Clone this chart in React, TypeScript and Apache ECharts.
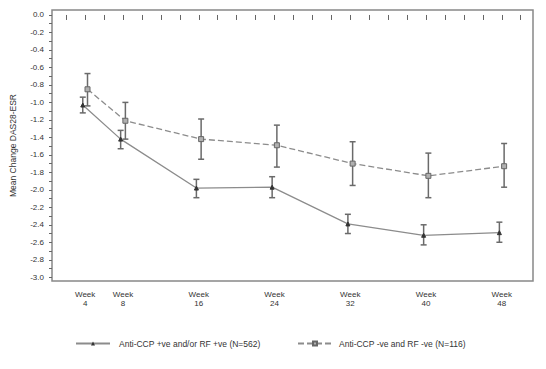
import React, { useEffect, useRef } from "react";
import * as echarts from "echarts";

const weeks = [4, 8, 16, 24, 32, 40, 48];
const xTickWeeks = [2, 4, 6, 8, 10, 12, 14, 16, 18, 20, 22, 24, 26, 28, 30, 32, 34, 36, 38, 40, 42, 44, 46, 48, 50];
const yTickLabels = [0, -0.2, -0.4, -0.6, -0.8, -1.0, -1.2, -1.4, -1.6, -1.8, -2.0, -2.2, -2.4, -2.6, -2.8, -3.0];
const yTicks = [0, -0.1, -0.2, -0.3, -0.4, -0.5, -0.6, -0.7, -0.8, -0.9, -1.0, -1.1, -1.2, -1.3, -1.4, -1.5, -1.6, -1.7, -1.8, -1.9, -2.0, -2.1, -2.2, -2.3, -2.4, -2.5, -2.6, -2.7, -2.8, -2.9, -3.0];

const posName = "Anti-CCP +ve and/or RF +ve (N=562)";
const posMean = [-1.03, -1.42, -1.98, -1.97, -2.39, -2.52, -2.49];
const posLow = [-1.12, -1.53, -2.09, -2.09, -2.5, -2.63, -2.6];
const posHigh = [-0.94, -1.32, -1.88, -1.85, -2.28, -2.4, -2.37];

const negName = "Anti-CCP -ve and RF -ve (N=116)";
const negMean = [-0.85, -1.21, -1.42, -1.49, -1.7, -1.84, -1.73];
const negLow = [-1.04, -1.42, -1.65, -1.74, -1.95, -2.09, -1.97];
const negHigh = [-0.67, -1.0, -1.19, -1.26, -1.45, -1.58, -1.47];

const DODGE = 0.25;
const FONT = "'Liberation Sans', Arial, sans-serif";

function errorSeries(offset: number, low: number[], high: number[]) {
  return {
    type: "custom",
    silent: true,
    z: 3,
    encode: { x: 0, y: [1, 2] },
    data: weeks.map((w, i) => [w + offset, low[i], high[i]]),
    renderItem: (params: any, api: any) => {
      const x = api.value(0);
      const lo = api.coord([x, api.value(1)]);
      const hi = api.coord([x, api.value(2)]);
      const cw = 3;
      const style = { stroke: "#6a6a6a", lineWidth: 1.5 };
      return {
        type: "group",
        children: [
          { type: "line", shape: { x1: lo[0], y1: lo[1], x2: hi[0], y2: hi[1] }, style },
          { type: "line", shape: { x1: lo[0] - cw, y1: lo[1], x2: lo[0] + cw, y2: lo[1] }, style },
          { type: "line", shape: { x1: hi[0] - cw, y1: hi[1], x2: hi[0] + cw, y2: hi[1] }, style },
        ],
      };
    },
  };
}

export default function App() {
  const ref = useRef<HTMLDivElement>(null);
  useEffect(() => {
    if (!ref.current) return;
    const chart = echarts.init(ref.current, undefined, { renderer: "svg" });
    chart.setOption({
      animation: false,
      backgroundColor: "#fff",
      textStyle: { fontFamily: FONT },
      grid: {
        left: 50,
        top: 10,
        right: 13,
        bottom: 88,
        show: true,
        borderColor: "#888",
        borderWidth: 1.5,
        backgroundColor: "transparent",
      },
      legend: [
        {
          left: 70,
          top: 334,
          itemWidth: 34,
          itemHeight: 5,
          data: [posName],
          textStyle: { fontSize: 8.5, color: "#333", fontFamily: FONT, padding: [0, 0, 0, 4] },
        },
        {
          left: 292,
          top: 334,
          itemWidth: 34,
          itemHeight: 5,
          data: [negName],
          textStyle: { fontSize: 8.5, color: "#333", fontFamily: FONT, padding: [0, 0, 0, 2] },
        },
      ],
      xAxis: {
        type: "value",
        min: 0.5,
        max: 51.3,
        splitLine: { show: false },
        axisLine: { show: false },
        axisTick: {
          show: true,
          length: 5,
          customValues: xTickWeeks,
          lineStyle: { color: "#666", width: 1 },
        },
        axisLabel: {
          customValues: weeks,
          formatter: (v: number) => "Week\n" + v,
          fontSize: 8,
          lineHeight: 9,
          margin: 9,
          color: "#333",
          fontFamily: FONT,
        },
      },
      yAxis: {
        type: "value",
        min: -3.043,
        max: 0.057,
        name: "Mean Change DAS28-ESR",
        nameLocation: "middle",
        nameGap: 35,
        nameTextStyle: { fontSize: 8.5, color: "#333", fontFamily: FONT },
        splitLine: { show: false },
        axisLine: { show: false },
        axisTick: {
          show: true,
          length: 3,
          customValues: yTicks,
          lineStyle: { color: "#666", width: 1 },
        },
        axisLabel: {
          customValues: yTickLabels,
          formatter: (v: number) => v.toFixed(1),
          fontSize: 8,
          margin: 8,
          color: "#333",
          fontFamily: FONT,
        },
      },
      series: [
        errorSeries(-DODGE, posLow, posHigh),
        errorSeries(DODGE, negLow, negHigh),
        {
          name: posName,
          type: "line",
          z: 4,
          data: weeks.map((w, i) => [w - DODGE, posMean[i]]),
          symbol: "triangle",
          symbolSize: 4,
          itemStyle: { color: "#333", borderColor: "#333" },
          lineStyle: { color: "#8c8c8c", width: 1.3, type: "solid" },
        },
        {
          name: negName,
          type: "line",
          z: 4,
          data: weeks.map((w, i) => [w + DODGE, negMean[i]]),
          symbol: "rect",
          symbolSize: 5,
          itemStyle: { color: "#b0b0b0", borderColor: "#666", borderWidth: 1 },
          lineStyle: { color: "#8c8c8c", width: 1.3, type: [6, 3] },
        },
      ],
    });
    return () => chart.dispose();
  }, []);
  return (
    <div
      ref={ref}
      style={{ position: "fixed", left: 0, top: 0, width: 546, height: 369 }}
    />
  );
}
